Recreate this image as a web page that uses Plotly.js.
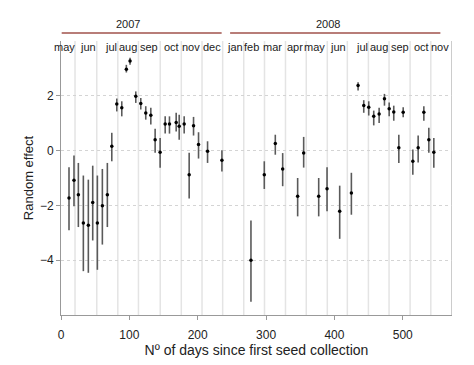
<!DOCTYPE html>
<html>
<head>
<meta charset="utf-8">
<script src="https://cdn.plot.ly/plotly-3.0.1.min.js"></script>
<style>html,body{margin:0;padding:0;background:#fff}#chart{width:474px;height:365px}</style>
</head>
<body>
<div id="chart"></div>
<script>
// Days since first seed collection
const days = [11.7,19,25.4,32.7,40,46.4,53.2,60.5,67.8,74.3,81.6,88.9,95.6,101,109.4,116.7,124,131.4,137.7,145,152.4,158.7,168.5,172.9,180.2,187.5,193.9,201.2,214.4,235.4,
  277.9,297.4,313.5,324.3,346.2,355,377,389.2,407.7,424.8,434.6,442.9,450.2,457.5,465.4,473.2,480.1,486.8,494.2,500.6,514.7,522.5,530.8,538.1,545.4];
// Random effect estimates
const effect = [-1.73,-1.08,-1.61,-2.64,-2.72,-1.89,-2.64,-2.01,-1.61,0.16,1.70,1.56,2.97,3.27,1.98,1.72,1.37,1.29,0.40,-0.06,0.97,0.97,1.03,0.89,0.97,-0.88,0.91,0.22,-0.02,-0.35,
  -4.0,-0.88,0.26,-0.67,-1.67,-0.09,-1.67,-1.39,-2.21,-1.55,2.38,1.65,1.58,1.25,1.34,1.89,1.53,1.41,0.10,1.40,-0.39,0.10,1.40,0.40,-0.06];
// Interval lower bounds
const lower = [-2.91,-2.03,-2.79,-4.40,-4.46,-3.28,-4.35,-3.43,-2.79,-0.39,1.43,1.25,2.85,3.13,1.74,1.50,1.13,0.95,-0.08,-0.63,0.62,0.62,0.70,0.40,0.62,-1.75,0.55,-0.29,-0.45,-0.76,
  -5.52,-1.40,-0.15,-1.30,-2.40,-0.62,-2.40,-2.21,-3.22,-2.34,2.19,1.38,1.28,0.92,1.01,1.64,1.25,1.09,-0.45,1.22,-0.88,-0.43,1.09,-0.08,-0.63];
// Interval upper bounds
const upper = [-0.61,-0.18,-0.45,-0.91,-1.06,-0.55,-0.91,-0.67,-0.45,0.65,1.90,1.80,3.13,3.39,2.16,1.92,1.62,1.56,0.80,0.46,1.25,1.25,1.38,1.31,1.25,-0.08,1.23,0.67,0.34,0.01,
  -2.55,-0.39,0.58,-0.09,-1.00,0.50,-1.00,-0.61,-1.28,-0.81,2.49,1.84,1.80,1.46,1.56,2.07,1.76,1.64,0.58,1.58,0.04,0.55,1.62,0.83,0.46];

// Month boundaries (days) and month labels
const monthBounds = [20.5,52.3,83.1,113.3,145.2,176,206.3,236.5,267.3,297.7,328.4,358.8,389.6,418.9,449.7,479.9,510.7,541];
const endBound = 572;
const monthNames = ["may","jun","jul","aug","sep","oct","nov","dec","jan","feb","mar","apr","may","jun","jul","aug","sep","oct","nov"];
const monthPos = [5.1,39.3,73,98.5,128.5,162,189.8,220.8,254.5,278.6,310,343,371,405,439.6,465,495.6,528,555];
const years = ["2007","2008"];
const yearStart = [1,247.4];
const yearEnd = [235,555];
const xTicks = [0,100,200,300,400,500];
const yTicks = [-4,-2,0,2];

const errPlus = upper.map((u,i)=>u-effect[i]);
const errMinus = effect.map((e,i)=>e-lower[i]);

const trace = {
  type:'scatter', mode:'markers', x:days, y:effect,
  marker:{color:'#000', size:3.5},
  error_y:{type:'data', symmetric:false, array:errPlus, arrayminus:errMinus, width:0, thickness:1.6, color:'#5a5a5a'},
  hoverinfo:'x+y', showlegend:false
};

const shapes = [];
monthBounds.forEach(d=>shapes.push({type:'line', xref:'x', yref:'paper', x0:d, x1:d, y0:0, y1:1, line:{color:'#e4e4e4', width:1.5}, layer:'below'}));
shapes.push({type:'line', xref:'x', yref:'paper', x0:endBound, x1:endBound, y0:0, y1:1, line:{color:'#aaaaaa', width:1.2}, layer:'below'});
years.forEach((y,i)=>shapes.push({type:'line', xref:'x', yref:'paper', x0:yearStart[i], x1:yearEnd[i], y0:1.029, y1:1.029, line:{color:'#a0524b', width:1.5}}));

const annotations = [];
monthNames.forEach((m,i)=>annotations.push({text:m, x:monthPos[i], xref:'x', y:0.978, yref:'paper', showarrow:false, xanchor:'center', yanchor:'middle', font:{family:'Liberation Sans, Arial, sans-serif', size:11, color:'#222'}}));
years.forEach((y,i)=>annotations.push({text:y, x:(yearStart[i]+yearEnd[i])/2 - (i===0?20.5:10), xref:'x', y:1.062, yref:'paper', showarrow:false, xanchor:'center', yanchor:'middle', font:{family:'Liberation Sans, Arial, sans-serif', size:11, color:'#222'}}));

const layout = {
  width:474, height:365,
  margin:{l:61, r:22, t:41, b:50, pad:0},
  paper_bgcolor:'#fff', plot_bgcolor:'#fff',
  font:{family:'Liberation Sans, Arial, sans-serif', color:'#222', size:12},
  xaxis:{range:[0,572], tickvals:xTicks, ticks:'outside', ticklen:4, tickcolor:'#999', showline:true, linecolor:'#999', linewidth:1,
    showgrid:false, zeroline:false, tickfont:{size:12, color:'#222'}, ticklabelstandoff:5,
    title:{text:'Nº of days since first seed collection', font:{size:14, color:'#222'}, standoff:2}},
  yaxis:{range:[-6,4], tickvals:yTicks, ticks:'outside', ticklen:4, tickcolor:'#999', showline:true, linecolor:'#999', linewidth:1,
    showgrid:true, gridcolor:'#d4d4d4', griddash:'dot', gridwidth:1, zeroline:false, tickfont:{size:12, color:'#222'},
    title:{text:'Random effect', font:{size:13, color:'#222'}, standoff:3}},
  shapes:shapes, annotations:annotations
};

Plotly.newPlot('chart',[trace],layout,{displayModeBar:false, staticPlot:true});
</script>
</body>
</html>
